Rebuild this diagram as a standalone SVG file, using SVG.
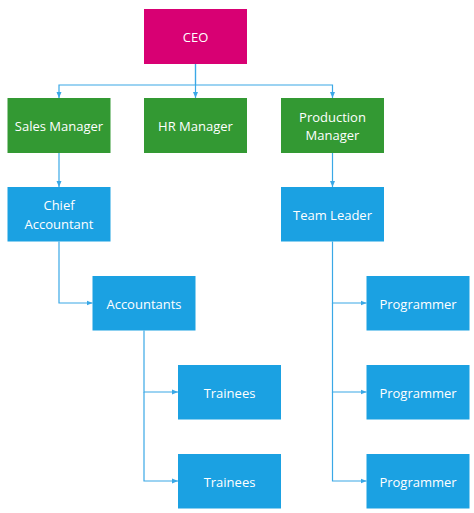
<svg xmlns="http://www.w3.org/2000/svg" width="474" height="513" viewBox="0 0 474 513">
<style>
.n{stroke:none}
.ceo{fill:#d80073}
.g{fill:#339933}
.b{fill:#1ba1e2}
text{font-family:"Open Sans","Noto Sans",sans-serif;font-size:13px;fill:#ffffff;text-anchor:middle;dominant-baseline:central}
.c{fill:none;stroke:#3aa8e6;stroke-width:1.2;marker-end:url(#ah)}
</style>
<defs>
<marker id="ah" viewBox="0 0 6 6" refX="6" refY="3" markerWidth="6" markerHeight="6" markerUnits="userSpaceOnUse" orient="auto">
<path d="M0,0.5 L6,3 L0,5.5 z" fill="#3aa8e6"/>
</marker>
</defs>
<rect width="474" height="513" fill="#ffffff"/>
<g id="connectors">
<path class="c" d="M195.5,64 V85 H59 V98"/>
<path class="c" d="M195.5,64 V98"/>
<path class="c" d="M195.5,85 H332.5 V98"/>
<path class="c" d="M59,153 V187"/>
<path class="c" d="M332.5,153 V187"/>
<path class="c" d="M59,241.5 V303 H92.5"/>
<path class="c" d="M144,330.5 V392 H178"/>
<path class="c" d="M144,392 V481 H178"/>
<path class="c" d="M332.5,241.5 V303 H366.5"/>
<path class="c" d="M332.5,303 V392 H366.5"/>
<path class="c" d="M332.5,392 V481 H366.5"/>
</g>
<g id="ceo"><rect class="n ceo" x="144" y="9" width="103" height="55"/><text x="195.5" y="37">CEO</text></g>
<g id="sales"><rect class="n g" x="7.5" y="98" width="103" height="55"/><text x="59" y="126">Sales Manager</text></g>
<g id="hr"><rect class="n g" x="144" y="98" width="103" height="55"/><text x="195.5" y="126">HR Manager</text></g>
<g id="production"><rect class="n g" x="281" y="98" width="103" height="55"/><text x="332.5" y="117">Production</text><text x="332.5" y="135">Manager</text></g>
<g id="chief"><rect class="n b" x="7.5" y="187" width="103" height="54.5"/><text x="59" y="205">Chief</text><text x="59" y="224">Accountant</text></g>
<g id="teamleader"><rect class="n b" x="281" y="187" width="103" height="54.5"/><text x="332.5" y="215">Team Leader</text></g>
<g id="accountants"><rect class="n b" x="92.5" y="276" width="103" height="54.5"/><text x="144" y="304">Accountants</text></g>
<g id="programmer1"><rect class="n b" x="366.5" y="276" width="103" height="54.5"/><text x="418" y="304">Programmer</text></g>
<g id="trainees1"><rect class="n b" x="178" y="365" width="103" height="54.5"/><text x="229.5" y="393">Trainees</text></g>
<g id="programmer2"><rect class="n b" x="366.5" y="365" width="103" height="54.5"/><text x="418" y="393">Programmer</text></g>
<g id="trainees2"><rect class="n b" x="178" y="454" width="103" height="54.5"/><text x="229.5" y="482">Trainees</text></g>
<g id="programmer3"><rect class="n b" x="366.5" y="454" width="103" height="54.5"/><text x="418" y="482">Programmer</text></g>
</svg>
